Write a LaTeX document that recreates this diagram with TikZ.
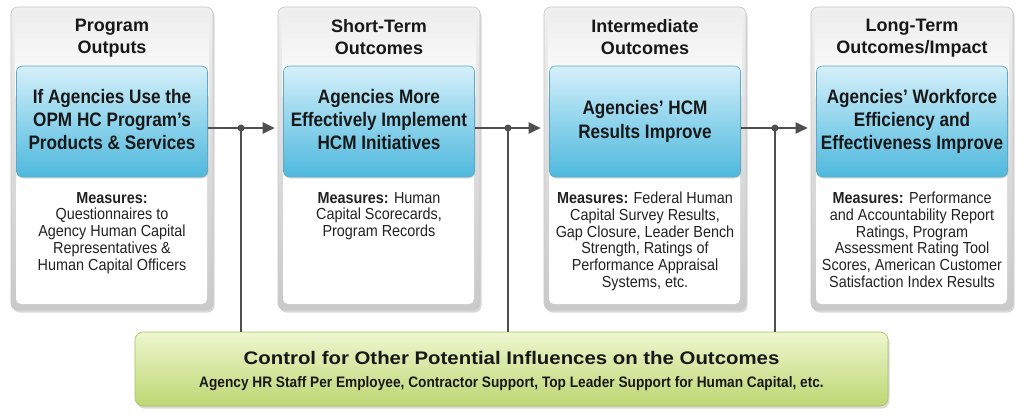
\documentclass[tikz,border=0pt]{standalone}
\usepackage{fontspec}
\setmainfont{Liberation Sans}
\newfontfamily\hdrfont{Liberation Sans}
\newfontfamily\bluefont[FakeStretch=0.88]{Liberation Sans}
\newfontfamily\measfont[FakeStretch=0.9]{Liberation Sans}
\newfontfamily\ttlfont[FakeStretch=1.12]{Liberation Sans}
\newfontfamily\subfont[FakeStretch=0.9]{Liberation Sans}
\usetikzlibrary{shadows,arrows.meta,calc}
\definecolor{arrowc}{HTML}{4F4F4F}
\definecolor{bluetop}{HTML}{D6F0FA}
\definecolor{bluemid}{HTML}{8FD4EC}
\definecolor{bluebot}{HTML}{4FB8DD}
\definecolor{blueedge}{HTML}{5FA9C6}
\definecolor{greentop}{HTML}{EEF6CF}
\definecolor{greenbot}{HTML}{BCD772}
\definecolor{greenedge}{HTML}{A6C35F}
\definecolor{txt}{HTML}{181818}
\definecolor{meastxt}{HTML}{222222}
\begin{document}
\begin{tikzpicture}[x=1pt,y=-1pt,
  frame/.style={rounded corners=7pt, draw=gray!45, line width=0.6pt,
    top color=gray!12, bottom color=gray!42,
    drop shadow={shadow xshift=1.5pt, shadow yshift=-2.5pt, opacity=0.3}},
  hdrbg/.style={rounded corners=5pt, top color=gray!14, bottom color=white},
  lowbg/.style={rounded corners=5pt, fill=white},
  bluebox/.style={rounded corners=6pt, draw=blueedge, line width=0.6pt,
    top color=bluetop, bottom color=bluebot, middle color=bluemid,
    minimum width=191pt, minimum height=111pt, inner sep=0pt,
    align=center, text=txt, text depth=4.3pt,
    font=\bluefont\bfseries\fontsize{19.5}{23.3}\selectfont,
    drop shadow={shadow xshift=0.8pt, shadow yshift=-1.5pt, opacity=0.25}},
  hdr/.style={anchor=north, inner sep=0pt, align=center, text=txt,
    font=\hdrfont\bfseries\fontsize{18}{22}\selectfont},
  meas/.style={anchor=north, inner sep=0pt, align=center, text=meastxt,
    font=\measfont\fontsize{16}{16.7}\selectfont},
  conn/.style={draw=arrowc, line width=2pt},
  arr/.style={conn, -{Triangle[length=12pt,width=11pt]}, shorten >=8.5pt},
  dot/.style={fill=arrowc},
  greenbox/.style={rounded corners=8pt, draw=greenedge, line width=0.6pt,
    top color=greentop, bottom color=greenbot,
    minimum width=753pt, minimum height=74pt, inner sep=0pt,
    drop shadow={shadow xshift=1.5pt, shadow yshift=-2.5pt, opacity=0.3}}
]
\useasboundingbox (0,0) rectangle (1024,418);
\fill[white] (0,0) rectangle (1024,418);

% ---- column frames
\foreach \L in {11,278,544,811}{
  \path[frame] (\L,7) rectangle ({\L+202},310);
  \path[hdrbg] ({\L+4},11) rectangle ({\L+198},100);
  \path[lowbg] ({\L+5},140) rectangle ({\L+196},304);
}

% ---- headers
\node[hdr] (h1) at (112,19) {Program\\Outputs};
\node[hdr] (h2) at (379,19) {Short-Term\\Outcomes};
\node[hdr] (h3) at (645,19) {Intermediate\\Outcomes};
\node[hdr] (h4) at (912,19) {Long-Term\\Outcomes/Impact};

% ---- blue boxes
\node[bluebox] (b1) at (112,121.5) {If Agencies Use the\\OPM HC Program’s\\Products \& Services};
\node[bluebox] (b2) at (379,121.5) {Agencies More\\Effectively Implement\\HCM Initiatives};
\node[bluebox] (b3) at (645,121.5) {Agencies’ HCM\\Results Improve};
\node[bluebox] (b4) at (912,121.5) {Agencies’ Workforce\\Efficiency and\\Effectiveness Improve};

% ---- measures
\node[meas] (m1) at (112,192) {\textbf{Measures:}\\Questionnaires to\\Agency Human Capital\\Representatives \&\\Human Capital Officers};
\node[meas] (m2) at (379,192) {\textbf{Measures:} Human\\Capital Scorecards,\\Program Records};
\node[meas] (m3) at (645,192) {\textbf{Measures:} Federal Human\\Capital Survey Results,\\Gap Closure, Leader Bench\\Strength, Ratings of\\Performance Appraisal\\Systems, etc.};
\node[meas] (m4) at (912,192) {\textbf{Measures:} Performance\\and Accountability Report\\Ratings, Program\\Assessment Rating Tool\\Scores, American Customer\\Satisfaction Index Results};

% ---- control box
\node[greenbox] (ctl) at (511.5,369) {};
\node[anchor=base, inner sep=0pt, text=txt, font=\ttlfont\bfseries\fontsize{18.2}{22}\selectfont] (ctlt) at (511.5,364.5) {Control for Other Potential Influences on the Outcomes};
\node[anchor=base, inner sep=0pt, text=txt, font=\subfont\bfseries\fontsize{15.2}{18}\selectfont] (ctls) at (511.5,387) {Agency HR Staff Per Employee, Contractor Support, Top Leader Support for Human Capital, etc.};

% ---- arrows and junctions
\draw[arr] ([yshift=-6.5pt]b1.east) -- ([yshift=-6.5pt]b2.west);
\draw[arr] ([yshift=-6.5pt]b2.east) -- ([yshift=-6.5pt]b3.west);
\draw[arr] ([yshift=-6.5pt]b3.east) -- ([yshift=-6.5pt]b4.west);
\coordinate (j1) at (241,128);
\coordinate (j2) at (508,128);
\coordinate (j3) at (775,128);
\foreach \j in {j1,j2,j3}{
  \draw[conn] (\j) -- (\j |- ctl.north);
  \fill[dot] (\j) circle (3.5pt);
}
\end{tikzpicture}
\end{document}
